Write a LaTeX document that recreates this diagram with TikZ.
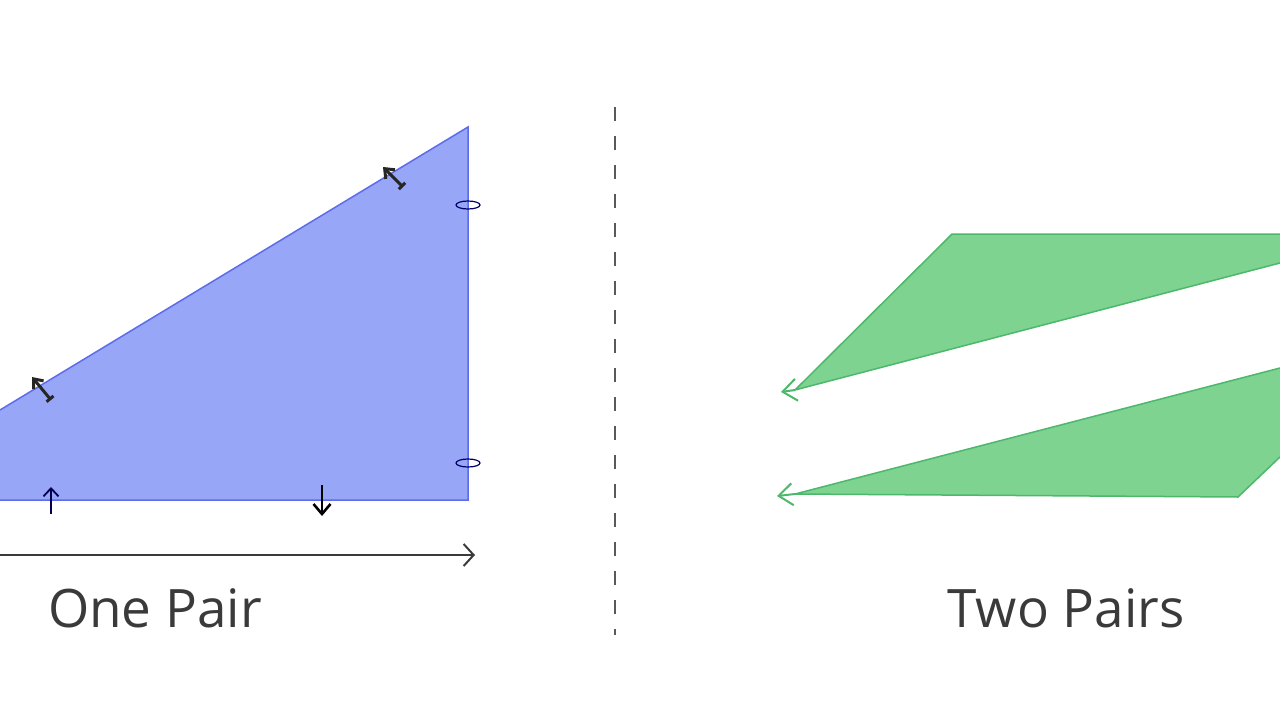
\documentclass[tikz,border=0pt]{standalone}
\usepackage{fontspec}
\setmainfont{Open Sans}
\usetikzlibrary{arrows.meta}
\definecolor{bluefill}{HTML}{98A6F8}
\definecolor{blueline}{HTML}{5C6CEB}
\definecolor{greenfill}{HTML}{7DD38F}
\definecolor{greenline}{HTML}{4DB86C}
\definecolor{inkgray}{HTML}{3A3A3A}
\tikzset{
  edgemark/.style={black!85, line width=3pt, {Bar[width=9pt]}-{Straight Barb[length=8pt, width=13pt]}},
  greenarrow/.style={greenline, line width=2pt, -{Straight Barb[length=14pt, width=22pt]}},
  caption/.style={text=inkgray, font=\fontsize{53}{60}\selectfont}
}
\begin{document}
\begin{tikzpicture}[x=1pt,y=-1pt]
    \useasboundingbox (0,0) rectangle (1280,720);
    \coordinate (bl) at (0,500); \coordinate (br) at (468,500); \coordinate (tr) at (468,127); \coordinate (tl) at (0,410);
    \coordinate (ga1) at (952,234); \coordinate (ga2) at (1280,234); \coordinate (ga3) at (1280,263); \coordinate (ga4) at (795,390);
    \coordinate (gb1) at (795,494); \coordinate (gb2) at (1280,368); \coordinate (gb3) at (1280,457); \coordinate (gb4) at (1238,497);

    % Blue figure
    \fill[bluefill] (bl)--(tl)--(tr)--(br)--cycle;
    \draw[blueline, line width=1.5pt] (tl)--(tr)--(br)--(bl);
    \draw[edgemark] (51,400)--(32,377);
    \draw[edgemark] (403,187)--(383,167);
    \draw[black!70!blue, line width=1.8pt, -{Straight Barb[length=8pt, width=15pt]}] (51,514)--(51,487);
    \draw[black, line width=2.6pt, -{Straight Barb[length=10pt, width=17pt]}] (322,485)--(322,516);
    \foreach \y in {205,463} \draw[black!60!blue, line width=1.2pt] (468,\y) ellipse (12 and 4);

    % Base arrow
    \coordinate (axs) at (0,555); \coordinate (axe) at (475,555);
    \draw[inkgray, line width=2pt, -{Straight Barb[length=10pt, width=22pt]}] (axs)--(axe);

    % Divider
    \coordinate (dtop) at (615,107); \coordinate (dbot) at (615,635);
    \draw[black!65, line width=2pt, dash pattern=on 14pt off 15pt] (dtop)--(dbot);

    % Green figures
    \fill[greenfill] (ga1)--(ga2)--(ga3)--(ga4)--cycle;
    \draw[greenline, line width=1.5pt] (ga3)--(ga4)--(ga1)--(ga2);
    \fill[greenfill] (gb1)--(gb2)--(gb3)--(gb4)--cycle;
    \draw[greenline, line width=1.5pt] (gb2)--(gb1)--(gb4)--(gb3);
    \coordinate (gae) at (781,392); \coordinate (gbe) at (777,496);
    \draw[greenarrow] (ga4)--(gae);
    \draw[greenarrow] (gb1)--(gbe);

    \node[caption] (onepair) at (155,608) {One Pair};
    \node[caption] (twopairs) at (1066,608) {Two Pairs};
\end{tikzpicture}
\end{document}
